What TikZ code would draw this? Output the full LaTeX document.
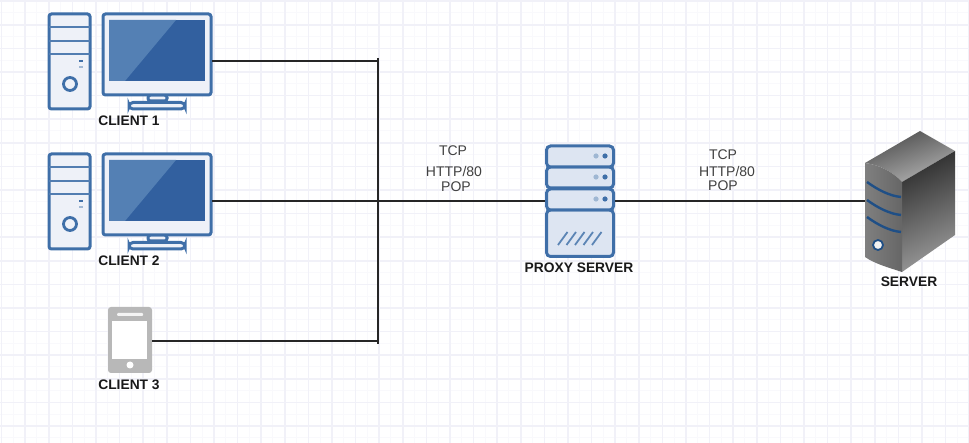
\documentclass[tikz,border=0pt]{standalone}
\usepackage{fontspec}
\setmainfont{Liberation Sans}
\definecolor{iconblue}{HTML}{3F6FA8}
\definecolor{iconfill}{HTML}{EEF1F8}
\definecolor{screenblue}{HTML}{32609F}
\definecolor{screenlight}{HTML}{5480B4}
\definecolor{bladefill}{HTML}{DDE5F2}
\definecolor{gridmajor}{HTML}{F1F1F8}
\definecolor{gridminor}{HTML}{F9F9FC}
\definecolor{phonegray}{HTML}{B8B8B8}
\definecolor{stripeblue}{HTML}{1F4F86}
\begin{document}
\begin{tikzpicture}[
      x=1pt, y=-1pt,
      every node/.style={font=\fontsize{14}{16}\selectfont, inner sep=0pt},
      caption/.style={font=\fontsize{13.8}{16}\selectfont\bfseries, text=black!90},
      proto/.style={text=black!75},
      anchorbox/.style={rectangle, inner sep=0pt},
      wire/.style={line width=1.9pt, black!85},
      iconline/.style={draw=iconblue, line width=3pt, rounded corners=2.5pt},
      bladeline/.style={draw=iconblue, fill=bladefill, line width=3pt, rounded corners=4pt},
      pics/desktop/.style={code={
        % tower
        \draw[iconline, fill=iconfill] (1,1) rectangle (42,96);
        \foreach \y in {14,28,41} {
          \draw[iconblue!90, line width=2.6pt] (1,\y) -- (42,\y);
        }
        \draw[iconblue, line width=2.8pt, fill=iconfill] (22,71) circle (6.5);
        \fill[iconblue] (31,47) rectangle (35,49.5);
        \fill[iconblue!50] (31,53) rectangle (35,55.5);
        % monitor
        \draw[iconline, fill=iconfill] (100,82) rectangle (119,88);
        \draw[iconline, fill=iconfill, rounded corners=4pt] (81,89.5) rectangle (137,96);
        \draw[iconline, fill=iconfill] (55,1) rectangle (163,82);
        \fill[screenblue] (61,7) rectangle (157,68);
        \fill[screenlight] (61,7) -- (128,7) -- (77,68) -- (61,68) -- cycle;
      }}
  ]
    \useasboundingbox (0,0) rectangle (969,443);
    \fill[white] (0,0) rectangle (969,443);
    \foreach \x in {0,...,82} {
      \draw[gridminor, line width=1pt] ({1.5+11.8*\x},0) -- ({1.5+11.8*\x},443);
    }
    \foreach \y in {0,...,38} {
      \draw[gridminor, line width=1pt] (0,{1.2+11.8*\y}) -- (969,{1.2+11.8*\y});
    }
    \foreach \x in {0,...,41} {
      \draw[gridmajor, line width=1.6pt] ({1.5+23.6*\x},0) -- ({1.5+23.6*\x},443);
    }
    \foreach \y in {0,...,19} {
      \draw[gridmajor, line width=1.6pt] (0,{1.2+23.6*\y}) -- (969,{1.2+23.6*\y});
    }

    \pic at (48,13) {desktop};
    \pic at (48,153) {desktop};

    % phone
    \fill[phonegray, rounded corners=3pt] (108,307) rectangle (152,373);
    \fill[white] (112,321) rectangle (147,359);
    \fill[white!85!phonegray, rounded corners=1pt] (117,313) rectangle (143,316);
    \fill[white] (130,365) circle (3.5);

    % proxy server
    \draw[bladeline] (546.5,210) rectangle (613.5,256.5);
    \draw[bladeline] (546.5,189) rectangle (613.5,210);
    \draw[bladeline] (546.5,167) rectangle (613.5,188);
    \draw[bladeline] (546.5,146) rectangle (613.5,167);
    \foreach \y in {156,177,199} {
      \fill[iconblue!50] (596,\y) circle (2.6);
      \fill[iconblue] (605,\y) circle (2.6);
    }
    \foreach \x in {558,566.5,575,583.5,592} {
      \draw[iconblue!85, line width=1.8pt] (\x,245) -- ++(9.5,-13);
    }

    % server
    \shade[left color=black!70, right color=black!30, shading angle=20]
      (865,163) -- (920,131) -- (955,151) -- (902,182) .. controls (893,172) and (880,165) .. (865,163) -- cycle;
    \shade[left color=black!82, right color=black!40, shading angle=25]
      (902,182) -- (955,151) -- (955,235) -- (902,272) -- cycle;
    \shade[left color=black!50, middle color=black!25, right color=black!60]
      (865,163) .. controls (880,165) and (893,172) .. (902,182) -- (902,272) .. controls (890,268) and (875,264) .. (865,257) -- cycle;
    \foreach \y in {182,200,217} {
      \draw[stripeblue, line width=2.4pt] (867,\y) .. controls (878,\y+8) and (890,\y+14) .. (901,\y+15);
    }
    \draw[stripeblue, line width=1.8pt, fill=black!5] (878,245) circle (5);

    % nodes to attach the wires to
    \node[anchorbox, minimum width=110pt, minimum height=83pt] (client1) at (157,54.5) {};
    \node[anchorbox, minimum width=110pt, minimum height=83pt] (client2) at (157,201) {};
    \node[anchorbox, minimum width=44pt, minimum height=66pt] (client3) at (130,341) {};
    \node[anchorbox, minimum width=70pt, minimum height=112pt] (proxy) at (580,201) {};
    \node[anchorbox, minimum width=90pt, minimum height=142pt] (server) at (910,201) {};
    \coordinate (bustop) at (378,58);
    \coordinate (busbottom) at (378,344);
    \coordinate (client1end) at (378,61);
    \coordinate (client3end) at (378,341);
    \coordinate (client1start) at (212,61);
    \coordinate (serverstart) at (865,201);

    \draw[wire] (bustop) -- (busbottom);
    \draw[wire] (client1start) -- (client1end);
    \draw[wire] (client2.east) -- (proxy.west);
    \draw[wire] (client3.east) -- (client3end);
    \draw[wire] (proxy.east) -- (serverstart);

    \node[caption] (label1) at (129,121) {CLIENT 1};
    \node[caption] (label2) at (129,261) {CLIENT 2};
    \node[caption] (label3) at (129,385) {CLIENT 3};
    \node[caption] (labelproxy) at (579,268) {PROXY SERVER};
    \node[caption] (labelserver) at (909,282) {SERVER};

    \node[proto] (tcpa) at (453,151) {TCP};
    \node[proto] (httpa) at (454,171) {HTTP/80};
    \node[proto] (popa) at (456,187) {POP};
    \node[proto] (tcpb) at (723,155) {TCP};
    \node[proto] (httpb) at (727,171) {HTTP/80};
    \node[proto] (popb) at (723,186) {POP};
  \end{tikzpicture}
\end{document}
